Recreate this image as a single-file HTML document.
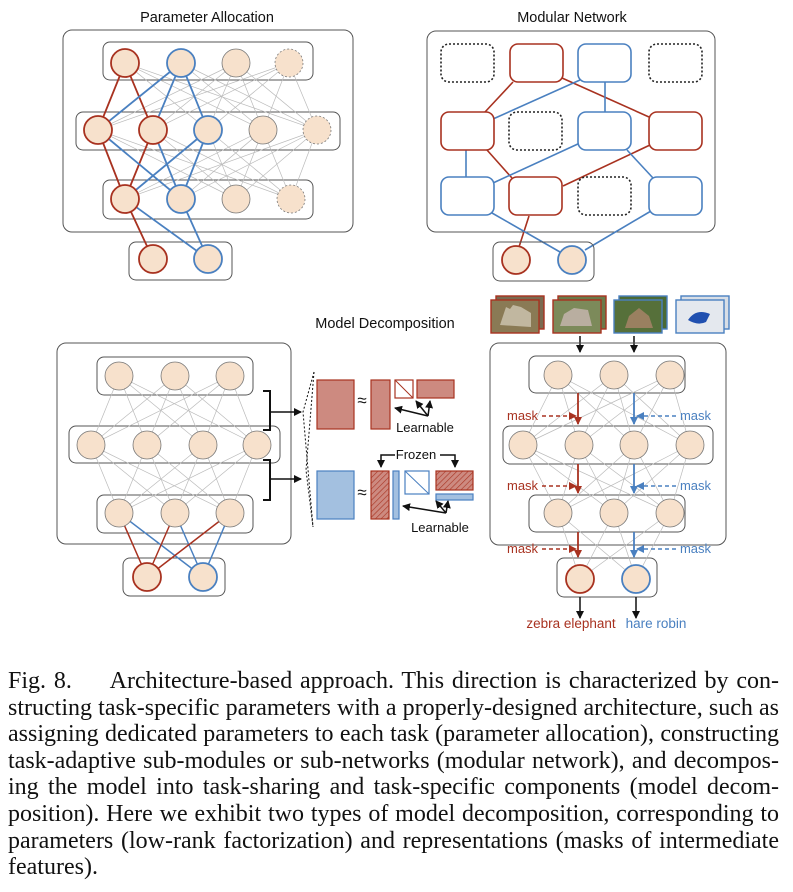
<!DOCTYPE html>
<html><head><meta charset="utf-8"><style>
html,body{margin:0;padding:0;background:#fff;width:793px;height:892px;overflow:hidden}
#cap{position:absolute;left:8px;top:668px;width:771px;font-family:"Liberation Serif",serif;font-size:24px;line-height:26.6px;color:#111}
#cap div{text-align:justify;text-align-last:justify;white-space:nowrap}
#cap div.l{text-align-last:left}
svg{position:absolute;left:0;top:0}
</style></head><body>
<svg id="s" width="793" height="660" xmlns="http://www.w3.org/2000/svg" font-family="Liberation Sans, sans-serif">
<defs>
<pattern id="h" width="4" height="4" patternUnits="userSpaceOnUse" patternTransform="rotate(45)">
<rect width="4" height="4" fill="#cd8a80"/><line x1="0" y1="0" x2="0" y2="4" stroke="#a83220" stroke-width="1.2"/></pattern>
<marker id="ab" markerWidth="8" markerHeight="8" refX="7" refY="4" orient="auto" markerUnits="userSpaceOnUse"><path d="M0,0 L8,4 L0,8z" fill="#111"/></marker>
<marker id="ar" markerWidth="8" markerHeight="8" refX="7" refY="4" orient="auto" markerUnits="userSpaceOnUse"><path d="M0,0 L8,4 L0,8z" fill="#a83220"/></marker>
<marker id="au" markerWidth="8" markerHeight="8" refX="7" refY="4" orient="auto" markerUnits="userSpaceOnUse"><path d="M0,0 L8,4 L0,8z" fill="#4a80c0"/></marker>
</defs>
<g id="g"></g>
</svg>
<div id="cap">
<div>Fig. 8.&nbsp;&nbsp;&nbsp;&nbsp; Architecture-based approach. This direction is characterized by con-</div>
<div>structing task-specific parameters with a properly-designed architecture, such as</div>
<div>assigning dedicated parameters to each task (parameter allocation), constructing</div>
<div>task-adaptive sub-modules or sub-networks (modular network), and decompos-</div>
<div>ing the model into task-sharing and task-specific components (model decom-</div>
<div>position). Here we exhibit two types of model decomposition, corresponding to</div>
<div>parameters (low-rank factorization) and representations (masks of intermediate</div>
<div class="l">features).</div>
</div>
<script>
var R="#a83220",B="#4a80c0",F="#f7e1cc",K="#555";
var o=[];
function box(x1,y1,x2,y2,st,dash,fill,rx){o.push('<rect x="'+x1+'" y="'+y1+'" width="'+(x2-x1)+'" height="'+(y2-y1)+'" rx="'+(rx||7)+'" fill="'+(fill||'none')+'" stroke="'+(st||K)+'" stroke-width="'+(st&&st!=K?1.6:1)+'"'+(dash?' stroke-dasharray="2,2"':'')+'/>');}
function ln(x1,y1,x2,y2,c,w,ex){o.push('<line x1="'+x1+'" y1="'+y1+'" x2="'+x2+'" y2="'+y2+'" stroke="'+c+'" stroke-width="'+(w||0.6)+'" '+(ex||'')+'/>');}
function ci(x,y,c,dash){o.push('<circle cx="'+x+'" cy="'+y+'" r="14" fill="'+F+'" stroke="'+(c||'#777')+'" stroke-width="'+(c?1.8:0.8)+'"'+(dash?' stroke-dasharray="2,2" stroke="#222"':'')+'/>');}
function tx(x,y,t,c,s,a){o.push('<text x="'+x+'" y="'+y+'" fill="'+(c||'#111')+'" font-size="'+(s||14.5)+'" text-anchor="'+(a||'middle')+'">'+t+'</text>');}
function full(A,yA,Bs,yB){A.forEach(function(a){Bs.forEach(function(b){ln(a,yA,b,yB,'#bbb',0.7);});});}
tx(207,22,'Parameter Allocation');
box(63,30,353,232,K,0,0,9);
box(103,42,313,80);box(76,112,340,150);box(103,180,313,219);box(129,242,232,280);
var r1=[125,181,236,289],r2=[98,153,208,263,317],r3=[125,181,236,291];
full(r1,63,r2,130);full(r2,130,r3,199);
[[125,63,98,130],[125,63,153,130],[98,130,125,199],[153,130,125,199],[125,199,153,259]].forEach(function(e){ln(e[0],e[1],e[2],e[3],R,1.8);});
[[181,63,98,130],[181,63,153,130],[181,63,208,130],[98,130,181,199],[153,130,181,199],[208,130,125,199],[208,130,181,199],[125,199,208,259],[181,199,208,259]].forEach(function(e){ln(e[0],e[1],e[2],e[3],B,1.8);});
ci(125,63,R);ci(181,63,B);ci(236,63);ci(289,63,0,1);
ci(98,130,R);ci(153,130,R);ci(208,130,B);ci(263,130);ci(317,130,0,1);
ci(125,199,R);ci(181,199,B);ci(236,199);ci(291,199,0,1);
ci(153,259,R);ci(208,259,B);
tx(572,22,'Modular Network');
box(427,31,715,232,K,0,0,9);
[[513,82,485,112,R],[562,78,649,117,R],[580,80,493,119,B],[605,82,605,112,B],[466,150,466,177,B],[487,150,512,178,R],[580,143,493,183,B],[650,145,563,186,R],[627,150,653,178,B],[529,216,519,247,R],[492,213,560,252,B],[651,211,585,250,B]].forEach(function(e){ln(e[0],e[1],e[2],e[3],e[4],1.6);});
function mr(x,y,c){if(c=='d')box(x,y,x+53,y+38,'#222',1,'#fff',8);else box(x,y,x+53,y+38,c,0,'#fff',8);}
mr(441,44,'d');mr(510,44,R);mr(578,44,B);mr(649,44,'d');
mr(441,112,R);mr(509,112,'d');mr(578,112,B);mr(649,112,R);
mr(441,177,B);mr(509,177,R);mr(578,177,'d');mr(649,177,B);
box(493,242,594,281);ci(516,260,R);ci(572,260,B);
tx(385,328,'Model Decomposition');
box(57,343,291,544,K,0,0,9);
box(97,357,253,395);box(69,426,280,463);box(97,495,253,533);box(123,558,225,596);
var a1=[119,175,230],a2=[91,147,203,257];
full(a1,376,a2,445);full(a2,445,a1,513);
[119,175,230].forEach(function(x){ln(x,513,147,577,R,1.5);ln(x,513,203,577,B,1.5);});
a1.forEach(function(x){ci(x,376);ci(x,513);});a2.forEach(function(x){ci(x,445);});
ci(147,577,R);ci(203,577,B);
o.push('<path d="M263,391 H270 V430 H263 M263,460 H270 V500 H263" fill="none" stroke="#111" stroke-width="2"/>');
ln(270,412,301,412,'#111',1.6,'marker-end="url(#ab)"');ln(270,479,301,479,'#111',1.6,'marker-end="url(#ab)"');
o.push('<path d="M314,372 L303,412 L313,527" fill="none" stroke="#111" stroke-dasharray="2,2"/>');
o.push('<path d="M314,372 L306,470 L313,527" fill="none" stroke="#111" stroke-dasharray="2,2"/>');
o.push('<rect x="317" y="380" width="37" height="49" fill="#cd8a80" stroke="'+R+'" stroke-width="1.2"/>');
tx(362,406,'≈','#111',17);
o.push('<rect x="371" y="380" width="19" height="49" fill="#cd8a80" stroke="'+R+'" stroke-width="1.2"/>');
o.push('<rect x="395" y="380" width="18" height="18" fill="#fff" stroke="'+R+'" stroke-width="1.2"/><line x1="395" y1="380" x2="413" y2="398" stroke="'+R+'"/>');
o.push('<rect x="417" y="380" width="37" height="18" fill="#cd8a80" stroke="'+R+'" stroke-width="1.2"/>');
ln(428,416,395,408,'#111',1.5,'marker-end="url(#ab)"');ln(428,416,416,401,'#111',1.5,'marker-end="url(#ab)"');ln(428,416,430,401,'#111',1.5,'marker-end="url(#ab)"');
tx(425,432,'Learnable','#111',13);
o.push('<rect x="317" y="471" width="37" height="48" fill="#a3c0e0" stroke="'+B+'" stroke-width="1.2"/>');
tx(362,498,'≈','#111',17);
o.push('<rect x="371" y="471" width="18" height="48" fill="url(#h)" stroke="'+R+'" stroke-width="1.2"/>');
o.push('<rect x="393" y="471" width="6" height="48" fill="#a3c0e0" stroke="'+B+'" stroke-width="1.2"/>');
o.push('<rect x="405" y="471" width="24" height="23" fill="#fff" stroke="'+B+'" stroke-width="1.2"/><line x1="405" y1="471" x2="429" y2="494" stroke="'+B+'"/>');
o.push('<rect x="436" y="471" width="37" height="19" fill="url(#h)" stroke="'+R+'" stroke-width="1.2"/>');
o.push('<rect x="436" y="494" width="37" height="6" fill="#a3c0e0" stroke="'+B+'" stroke-width="1.2"/>');
tx(416,459,'Frozen','#111',13);
o.push('<path d="M395,455 H381 V467" fill="none" stroke="#111" stroke-width="1.5" marker-end="url(#ab)"/>');
o.push('<path d="M440,455 H455 V467" fill="none" stroke="#111" stroke-width="1.5" marker-end="url(#ab)"/>');
ln(446,513,403,506,'#111',1.5,'marker-end="url(#ab)"');ln(446,513,436,501,'#111',1.5,'marker-end="url(#ab)"');ln(446,513,448,501,'#111',1.5,'marker-end="url(#ab)"');
tx(440,532,'Learnable','#111',13);
function img(x,c,g1,g2){o.push('<rect x="'+(x+5)+'" y="296" width="48" height="33" fill="'+g2+'" stroke="'+c+'" stroke-width="1.4"/>');
o.push('<rect x="'+x+'" y="300" width="48" height="33" fill="'+g1+'" stroke="'+c+'" stroke-width="1.4"/>');}
img(491,R,'#8a7a55','#7a6a50');img(553,R,'#7c8a5a','#6a7a4a');img(614,B,'#56703a','#4a6a35');img(676,B,'#e4e8ee','#d8dee6');
o.push('<path d="M500,325 l6,-18 l4,2 l3,-4 l8,2 l10,6 l0,14z" fill="#d8d2c0" opacity="0.7"/>');
o.push('<path d="M560,326 l4,-12 l10,-6 l14,2 l4,16z" fill="#b9aea0"/>');
o.push('<path d="M625,328 l4,-12 l10,-8 l10,8 l4,12z" fill="#9a8060"/>');
o.push('<path d="M688,320 q8,-12 22,-6 l-4,8 q-8,4 -18,-2z" fill="#2050b0"/>');
ln(580,336,580,352,'#111',1.5,'marker-end="url(#ab)"');ln(634,336,634,352,'#111',1.5,'marker-end="url(#ab)"');
box(490,343,726,545,K,0,0,9);
box(529,356,685,393);box(503,426,713,464);box(529,495,685,532);box(557,558,657,597);
var b1=[558,614,670],b2=[523,579,634,690],b3=[580,636];
full(b1,375,b2,445);full(b2,445,b1,513);full(b1,513,b3,579);
[[393,424],[464,493],[532,557]].forEach(function(p){ln(578,p[0],578,p[1],R,1.8,'marker-end="url(#ar)"');ln(634,p[0],634,p[1],B,1.8,'marker-end="url(#au)"');});
[416,486,549].forEach(function(y){tx(507,y+4,'mask',R,13,'start');ln(542,y,576,y,R,1.5,'stroke-dasharray="4,3" marker-end="url(#ar)"');
tx(711,y+4,'mask',B,13,'end');ln(676,y,637,y,B,1.5,'stroke-dasharray="4,3" marker-end="url(#au)"');});
b1.forEach(function(x){ci(x,375);ci(x,513);});b2.forEach(function(x){ci(x,445);});
ci(580,579,R);ci(636,579,B);
ln(580,597,580,618,'#111',1.5,'marker-end="url(#ab)"');ln(636,597,636,618,'#111',1.5,'marker-end="url(#ab)"');
tx(571,628,'zebra elephant',R,13.5);
tx(656,628,'hare robin',B,13.5);
document.getElementById('g').innerHTML=o.join('');
</script>
</body></html>
